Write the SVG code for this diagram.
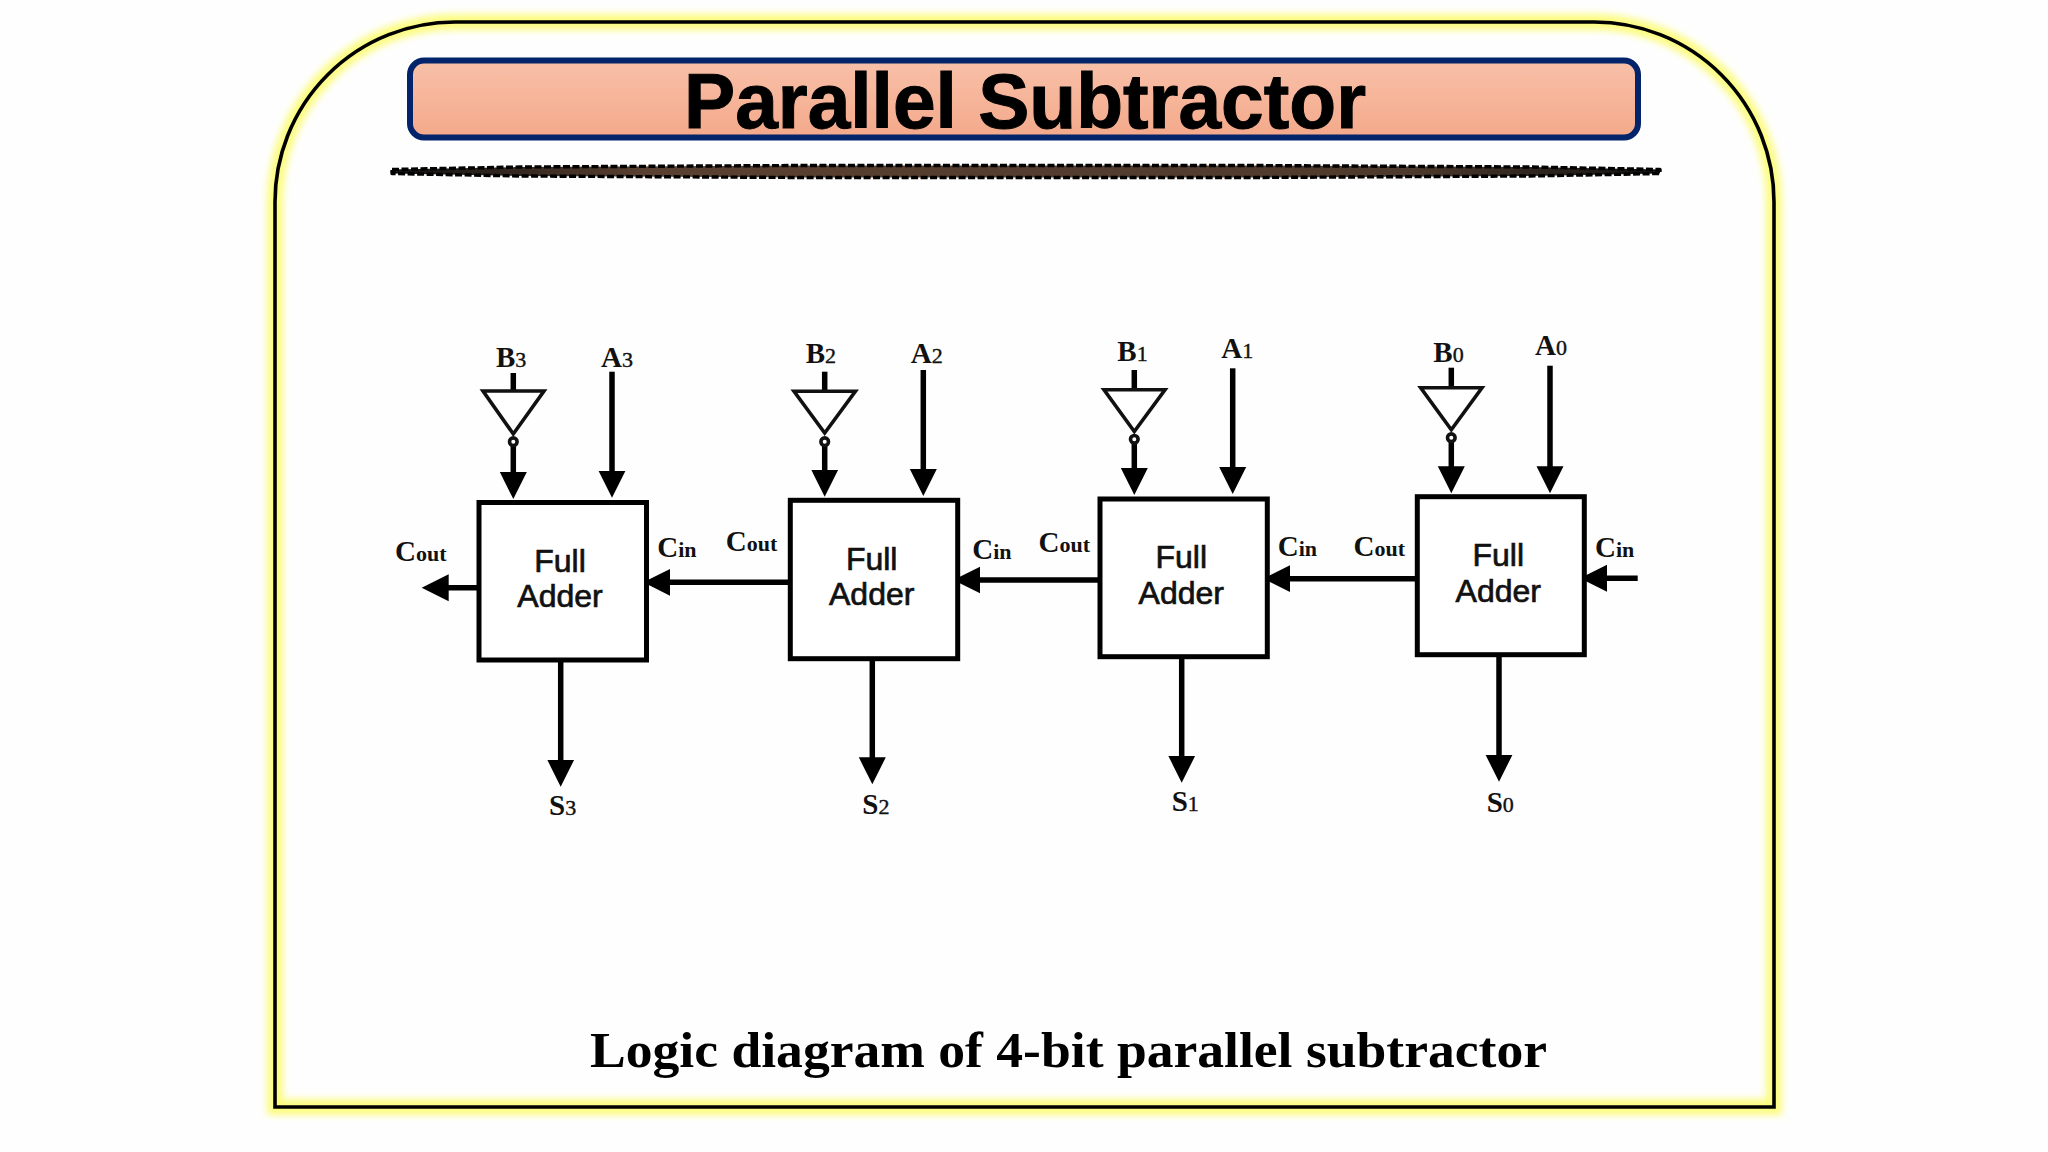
<svg xmlns="http://www.w3.org/2000/svg" width="2048" height="1152" viewBox="0 0 2048 1152">
<style>
.fa{fill:#fff;stroke:#000;stroke-width:5}
.fat{font-family:"Liberation Sans",Arial,sans-serif;font-size:32px;fill:#111;text-anchor:middle;stroke:#111;stroke-width:.7}
.lab{font-family:"Liberation Serif","Times New Roman",serif;font-weight:bold;font-size:29px;fill:#111}
.sub{font-size:22px}
.dig{font-size:22px;font-weight:normal;stroke:#111;stroke-width:.4}
.wire{stroke:#000;stroke-width:5.5;fill:none;marker-end:url(#head)}
.inv{fill:#fff;stroke:#111;stroke-width:3.6}
.stub{stroke:#000;stroke-width:5.5;fill:none}
</style>
<defs>
<marker id="head" markerUnits="userSpaceOnUse" markerWidth="28" markerHeight="28" refX="13" refY="14" orient="auto"><path d="M0 .5L27 14L0 27.5Z" fill="#000"/></marker>
<linearGradient id="titleFill" x1="0" y1="0" x2="0" y2="1"><stop offset="0" stop-color="#f8c0a9"/><stop offset="1" stop-color="#f4a98a"/></linearGradient>
<linearGradient id="ruleFill" x1="0" y1="0" x2="1" y2="0"><stop offset="0" stop-color="#111"/><stop offset=".2" stop-color="#5a4030"/><stop offset=".8" stop-color="#4e3a2c"/><stop offset="1" stop-color="#111"/></linearGradient>
<filter id="glow" x="-5%" y="-5%" width="110%" height="110%"><feGaussianBlur stdDeviation="3.5"/></filter>
</defs>
<rect width="2048" height="1152" fill="#fefefe"/>
<g id="frame">
<path d="M455 22H1594A180 180 0 0 1 1774 202V1107H275V202A180 180 0 0 1 455 22Z" fill="none" stroke="#fcfc80" stroke-width="16" filter="url(#glow)"/>
<path d="M455 22H1594A180 180 0 0 1 1774 202V1107H275V202A180 180 0 0 1 455 22Z" fill="none" stroke="#000" stroke-width="3.6"/>
</g>
<g id="title">
<rect x="410" y="60.5" width="1228" height="77" rx="14" fill="url(#titleFill)" stroke="#03236a" stroke-width="6"/>
<text x="684" y="128" font-family="'Liberation Sans',Arial,sans-serif" font-weight="bold" font-size="78" fill="#000" stroke="#000" stroke-width="1" textLength="682" lengthAdjust="spacingAndGlyphs">Parallel Subtractor</text>
</g>
<g id="rule">
<path d="M392 169.5L520 167L800 165.5H1250L1530 167L1660 169.5V173.5L1530 176L1250 177.5H800L520 176L392 173.5Z" fill="url(#ruleFill)" stroke="#000" stroke-width="3.4" stroke-dasharray="7 2.5" stroke-linejoin="round"/>
</g>
<g id="connectors">
<line class="wire" x1="612" y1="371.7" x2="612" y2="483.7"/>
<line class="wire" x1="513.3" y1="446" x2="513.3" y2="485"/>
<line class="wire" x1="560.7" y1="660" x2="560.7" y2="772.7"/>
<line class="wire" x1="478" y1="587.7" x2="435.7" y2="587.7"/>
<line class="wire" x1="790" y1="582.3" x2="657.3" y2="582.3"/>
<line class="wire" x1="824.7" y1="446" x2="824.7" y2="482.7"/>
<line class="wire" x1="923.3" y1="370" x2="923.3" y2="482"/>
<line class="wire" x1="872.3" y1="658.7" x2="872.3" y2="770.3"/>
<line class="wire" x1="1100" y1="580" x2="967.3" y2="580"/>
<line class="wire" x1="1134.3" y1="444" x2="1134.3" y2="481"/>
<line class="wire" x1="1232.7" y1="368.3" x2="1232.7" y2="480"/>
<line class="wire" x1="1181.7" y1="656.7" x2="1181.7" y2="768.7"/>
<line class="wire" x1="1417" y1="578.7" x2="1277.3" y2="578.7"/>
<line class="wire" x1="1451.3" y1="442" x2="1451.3" y2="479.3"/>
<line class="wire" x1="1550" y1="365.7" x2="1550" y2="479.3"/>
<line class="wire" x1="1499" y1="654.7" x2="1499" y2="767.7"/>
<line class="wire" x1="1637.7" y1="578.3" x2="1594" y2="578.3"/>
</g>
<g id="inv3"><line class="stub" x1="513.3" y1="373" x2="513.3" y2="391"/><path class="inv" d="M483 391H544L513.3 434Z"/><circle class="inv" cx="513.3" cy="441.7" r="3.8"/></g>
<g id="inv2"><line class="stub" x1="824.7" y1="371.7" x2="824.7" y2="391"/><path class="inv" d="M794 391.3H855.4L824.7 433Z"/><circle class="inv" cx="824.7" cy="441.7" r="3.8"/></g>
<g id="inv1"><line class="stub" x1="1134.3" y1="370" x2="1134.3" y2="389.7"/><path class="inv" d="M1104 389.7H1165L1134.3 431.5Z"/><circle class="inv" cx="1134.3" cy="439.3" r="3.8"/></g>
<g id="inv0"><line class="stub" x1="1451.3" y1="367.7" x2="1451.3" y2="387.7"/><path class="inv" d="M1420.7 387.7H1482L1451.3 429.7Z"/><circle class="inv" cx="1451.3" cy="437.7" r="3.8"/></g>
<g id="fa3"><rect class="fa" x="479" y="502.5" width="167.5" height="157.5"/><text class="fat" x="560" y="571.7">Full</text><text class="fat" x="560" y="607">Adder</text></g>
<g id="fa2"><rect class="fa" x="790.3" y="500.3" width="167.4" height="158.4"/><text class="fat" x="871.7" y="569.7">Full</text><text class="fat" x="871.7" y="605">Adder</text></g>
<g id="fa1"><rect class="fa" x="1100" y="499" width="167.3" height="157.7"/><text class="fat" x="1181.3" y="567.7">Full</text><text class="fat" x="1181.3" y="603.7">Adder</text></g>
<g id="fa0"><rect class="fa" x="1417.3" y="496.7" width="167" height="158"/><text class="fat" x="1498.3" y="565.7">Full</text><text class="fat" x="1498.3" y="602.3">Adder</text></g>
<g id="labels">
<text class="lab" x="496" y="367">B<tspan class="dig">3</tspan></text>
<text class="lab" x="601" y="367">A<tspan class="dig">3</tspan></text>
<text class="lab" x="805.7" y="362.7">B<tspan class="dig">2</tspan></text>
<text class="lab" x="910.7" y="363.3">A<tspan class="dig">2</tspan></text>
<text class="lab" x="1117.3" y="361.3">B<tspan class="dig">1</tspan></text>
<text class="lab" x="1221.3" y="357.7">A<tspan class="dig">1</tspan></text>
<text class="lab" x="1433.3" y="361.7">B<tspan class="dig">0</tspan></text>
<text class="lab" x="1535" y="355.3">A<tspan class="dig">0</tspan></text>
<text class="lab" x="549" y="814.7">S<tspan class="dig">3</tspan></text>
<text class="lab" x="862.3" y="814">S<tspan class="dig">2</tspan></text>
<text class="lab" x="1171.7" y="811.3">S<tspan class="dig">1</tspan></text>
<text class="lab" x="1486.7" y="811.7">S<tspan class="dig">0</tspan></text>
<text class="lab" x="395" y="560.7">C<tspan class="sub">out</tspan></text>
<text class="lab" x="657.3" y="557.3">C<tspan class="sub">in</tspan></text>
<text class="lab" x="725.7" y="551">C<tspan class="sub">out</tspan></text>
<text class="lab" x="972.3" y="559">C<tspan class="sub">in</tspan></text>
<text class="lab" x="1038.5" y="551.7">C<tspan class="sub">out</tspan></text>
<text class="lab" x="1277.7" y="555.7">C<tspan class="sub">in</tspan></text>
<text class="lab" x="1353.5" y="555.5">C<tspan class="sub">out</tspan></text>
<text class="lab" x="1595" y="556.7">C<tspan class="sub">in</tspan></text>
</g>
<text id="caption" x="590" y="1067" font-family="'Liberation Serif','Times New Roman',serif" font-weight="bold" font-size="51" fill="#000" textLength="957" lengthAdjust="spacingAndGlyphs">Logic diagram of 4-bit parallel subtractor</text>
</svg>
